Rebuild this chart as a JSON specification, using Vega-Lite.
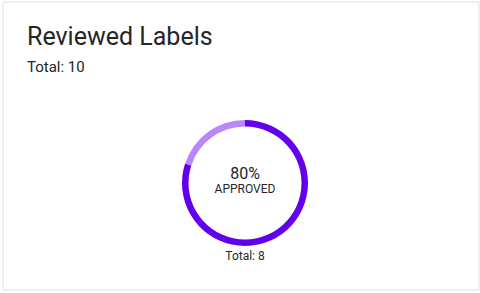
{
  "$schema": "https://vega.github.io/schema/vega-lite/v6.json",
  "width": 476,
  "height": 288,
  "padding": {"left": 2, "top": 1, "right": 2, "bottom": 4},
  "background": "#ffffff",
  "title": {
    "text": "Reviewed Labels",
    "subtitle": "Total: 10",
    "anchor": "start",
    "frame": "group",
    "orient": "top",
    "offset": -73,
    "dx": 24,
    "font": "Roboto",
    "fontSize": 25,
    "fontWeight": "normal",
    "color": "#262626",
    "subtitleFont": "Roboto",
    "subtitleFontSize": 15,
    "subtitleColor": "#262626",
    "subtitlePadding": 10
  },
  "config": {
    "view": {"stroke": "#e0e0e0", "strokeWidth": 1},
    "text": {"font": "Roboto", "color": "#262626"}
  },
  "layer": [
    {
      "data": {"values": [{"card": "frame"}]},
      "mark": {"type": "rect", "fill": null, "fillOpacity": 0, "stroke": "#e0e0e0", "strokeWidth": 1},
      "encoding": {}
    },
    {
      "data": {"values": [
        {"status": "Approved", "count": 8},
        {"status": "Not approved", "count": 2}
      ]},
      "mark": {"type": "arc", "outerRadius": 63, "innerRadius": 56.5, "xOffset": 4, "yOffset": 37},
      "encoding": {
        "theta": {"field": "count", "type": "quantitative", "stack": true},
        "order": {"field": "count", "sort": "descending"},
        "color": {
          "field": "status",
          "type": "nominal",
          "scale": {"domain": ["Approved", "Not approved"], "range": ["#6200ee", "#bb86fc"]},
          "legend": null
        }
      }
    },
    {
      "data": {"values": [{"label": "80%"}]},
      "mark": {"type": "text", "fontSize": 16, "align": "center", "baseline": "alphabetic", "xOffset": 4, "yOffset": 33},
      "encoding": {"text": {"field": "label"}}
    },
    {
      "data": {"values": [{"label": "APPROVED"}]},
      "mark": {"type": "text", "fontSize": 12, "align": "center", "baseline": "alphabetic", "xOffset": 4, "yOffset": 47},
      "encoding": {"text": {"field": "label"}}
    },
    {
      "data": {"values": [{"label": "Total: 8"}]},
      "mark": {"type": "text", "fontSize": 12, "align": "center", "baseline": "alphabetic", "xOffset": 4, "yOffset": 114},
      "encoding": {"text": {"field": "label"}}
    }
  ]
}
